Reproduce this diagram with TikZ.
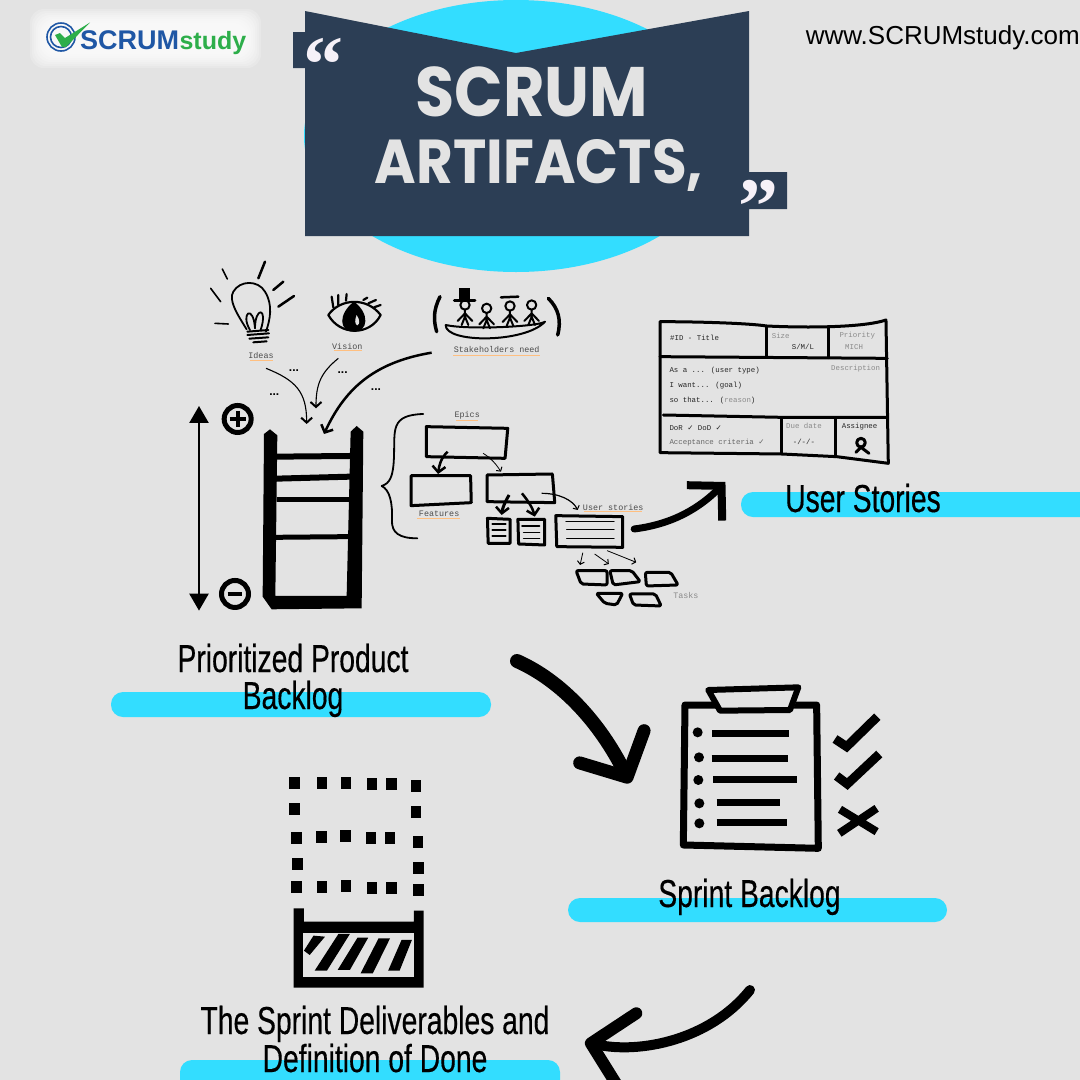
\documentclass[tikz,border=0pt]{standalone}
\usepackage{fontspec}
\usepackage{tikz}
\usetikzlibrary{arrows.meta,positioning,shapes.geometric}
\setmainfont{Liberation Sans}
\newfontfamily\headfont[FakeStretch=0.91]{Poppins}
\newfontfamily\quotefont{Liberation Serif}
\newfontfamily\barfont[FakeStretch=0.725,FakeBold=0.35]{Liberation Sans}
\newfontfamily\sketchfont{Liberation Mono}
\newfontfamily\symfont{DejaVu Sans}
\definecolor{pagegray}{HTML}{E3E3E3}
\definecolor{skyblue}{HTML}{33DDFF}
\definecolor{navy}{HTML}{2C3E55}
\definecolor{quotewhite}{HTML}{F6F1F8}
\definecolor{logoblue}{HTML}{1F57A5}
\definecolor{logogreen}{HTML}{2DAE4A}
\definecolor{faint}{HTML}{8A8A8A}

\begin{document}
\begin{tikzpicture}[x=1pt,y=-1pt,
  barlabel/.style = {font=\barfont\fontsize{39}{39}\selectfont, anchor=base, inner sep=0pt, text=black},
  bar/.style = {fill=skyblue, rounded corners=12pt},
  sketchlabel/.style = {font=\sketchfont\fontsize{8.4}{10}\selectfont, inner sep=0pt, text=black!70},
  cardtext/.style = {font=\sketchfont\fontsize{7.4}{10}\selectfont, inner sep=0pt, text=black!85, anchor=west},
  ringmark/.style = {circle, draw, line width=5pt, inner sep=0pt, minimum size=27pt},
  ink/.style = {draw=black, line width=3pt, line join=round, line cap=round},
  thinink/.style = {draw=black, line width=1pt, line cap=round},
  inkflow/.style = {draw=black, line width=2.5pt, -{Straight Barb[length=6pt,width=13pt,line width=2.5pt]}},
  headflow/.style = {draw=black, line width=1.1pt, -{Straight Barb[length=5pt,width=11pt,line width=2pt]}},
  thinflow/.style = {draw=black, line width=.8pt, -{Straight Barb[length=3pt,width=7pt,line width=1pt]}},
  dotsmark/.style = {font=\bfseries\fontsize{12}{12}\selectfont, inner sep=0pt, text=black},
  bigflow/.style = {draw=black, line cap=round},
  page1/.style = {shift={(190,250)}, scale=.3333},
  page2/.style = {shift={(380,310)}, xscale=.338, yscale=.3333},
  page4/.style = {shift={(660,670)}, scale=.3333},
  page6/.style = {shift={(170,760)}, xscale=.3827, yscale=.3333},
  page7/.style = {shift={(650,310)}, scale=.3333},
  page9/.style = {shift={(425,280)}, scale=.3333}]

  \useasboundingbox (0,0) rectangle (1080,1080);
  \clip (0,0) rectangle (1080,1080);
  \fill[pagegray] (0,0) rectangle (1080,1080);

  % logo
  \foreach \g in {16,14,12,10,8,6,4,2}
    \fill[white, opacity=.2, rounded corners=14pt] (46-\g,25-\g) rectangle (245+\g,52+\g);
  \draw[logoblue, line width=1.6pt] (61,37) circle (14pt) (61,37) circle (10.5pt);
  \fill[logogreen] (55,35) -- (60,33) -- (65,38) -- (90,22.5) -- (66,47) -- (62,47) -- cycle;
  \node[anchor=base west, inner sep=0pt, text=logoblue, font=\bfseries\fontsize{27}{27}\selectfont] (logoscrum) at (80,49) {SCRUM};
  \node[anchor=base west, inner sep=0pt, text=logogreen, font=\bfseries\fontsize{25}{25}\selectfont] (logostudy) at (logoscrum.base east) {study};
  \node[anchor=base east, inner sep=0pt, font=\fontsize{26}{26}\selectfont] (website) at (1080,44) {www.SCRUMstudy.com};

  % title
  \fill[skyblue] (516,136) ellipse (212pt and 136pt);
  \fill[navy] (305,11) -- (516,53) -- (749,11) -- (749,172) -- (787,172) -- (787,209) -- (749,209) -- (749,236) -- (305,236) -- (305,68) -- (293,68) -- (293,32) -- (305,32) -- cycle;
  \node[anchor=base, inner sep=0pt, text=pagegray, font=\headfont\bfseries\fontsize{70}{70}\selectfont] (titleone) at (532,116) {SCRUM};
  \node[anchor=base, inner sep=0pt, text=pagegray, font=\headfont\bfseries\fontsize{62}{62}\selectfont] (titletwo) at (539,183) {ARTIFACTS,};
  \node[anchor=base, inner sep=0pt, text=quotewhite, font=\quotefont\bfseries\fontsize{80}{80}\selectfont] (quoteopen) at (323,91) {“};
  \node[anchor=base, inner sep=0pt, text=quotewhite, font=\quotefont\bfseries\fontsize{80}{80}\selectfont] (quoteclose) at (758,233) {”};

  % bars and their labels
  \fill[bar] (741,492) rectangle (1100,517);
  \fill[bar] (111,692) rectangle (491,717);
  \fill[bar] (568,898) rectangle (947,922);
  \fill[bar] (180,1060) rectangle (560,1100);
  \node[barlabel] (userstories) at (863,512) {User Stories};
  \node[barlabel] (priolabel) at (293,672) {Prioritized Product};
  \node[barlabel] (priolabeltwo) at (293,709) {Backlog};
  \node[barlabel] (sprintlabel) at (749.5,907) {Sprint Backlog};
  \node[barlabel] (donelabel) at (375,1034) {The Sprint Deliverables and};
  \node[barlabel] (donelabeltwo) at (375,1072) {Definition of Done};

  % ideas, vision, stakeholders
  \begin{scope}[page1]
    \draw[ink, line width=2.5pt] (225,35) -- (205,85) (280,95) -- (250,120) (312,138) -- (265,170);
    \draw[ink, line width=1.6pt] (97,57) -- (112,87) (62,115) -- (92,155) (75,220) -- (115,222);
    \draw[ink, line width=1.8pt] (170,238) .. controls (140,190) and (115,150) .. (130,125) .. controls (150,90) and (205,90) .. (225,125) .. controls (250,165) and (240,210) .. (228,245);
    \draw[ink, line width=1.8pt] (180,240) .. controls (150,190) and (190,160) .. (195,235) .. controls (195,170) and (235,170) .. (212,240);
    \draw[ink, line width=2pt] (172,245) -- (235,240) (172,255) -- (237,250) (178,266) -- (235,262) (190,277) -- (230,274);
    \draw[ink, line width=2.2pt] (415,195) .. controls (450,145) and (530,140) .. (572,195) .. controls (540,258) and (450,258) .. (415,195);
    \fill (492,155) .. controls (540,190) and (535,245) .. (492,245) .. controls (445,245) and (445,190) .. (492,155);
    \fill[pagegray] (500,195) .. controls (510,210) and (510,222) .. (502,226) .. controls (494,222) and (494,210) .. (500,195);
    \draw[ink, line width=2.2pt] (430,172) -- (425,140) (445,165) -- (445,135) (468,152) -- (470,132) (520,150) -- (532,143) (535,160) -- (558,150) (552,172) -- (572,165);
    \node[sketchlabel] (idealabel) at (213,318) {Ideas};
    \node[sketchlabel] (visionlabel) at (472,290) {Vision};
    \coordinate (ideastart) at (228,355);
    \coordinate (visionstart) at (445,325);
    \coordinate (needstart) at (725,308);
    \coordinate (ideaend) at (350,522);
    \coordinate (visionend) at (378,475);
    \coordinate (needend) at (402,552);
    \node[dotsmark] (dotsone) at (312,362) {...};
    \node[dotsmark] (dotstwo) at (458,369) {...};
    \node[dotsmark] (dotsthree) at (558,418) {...};
    \node[dotsmark] (dotsfour) at (253,434) {...};
    \draw[orange!50, line width=.5pt] (180,330) -- (250,330) (432,302) -- (515,302);
  \end{scope}
  \begin{scope}[page9]
    \draw[ink, line width=3.5pt] (45,50) .. controls (25,90) and (25,120) .. (35,155);
    \draw[ink, line width=3.5pt] (370,55) .. controls (400,85) and (410,120) .. (398,165);
    \draw[ink, line width=2pt] (62,135) .. controls (60,190) and (300,190) .. (360,125) .. controls (340,140) and (130,150) .. (62,135);
    \foreach \x/\y in {120/75, 185/85, 255/78, 320/75}{
      \draw[ink, line width=2pt] (\x,\y) circle (14);
      \draw[ink, line width=2pt] (\x,\y+14) -- (\x,\y+35) (\x-22,\y+48) -- (\x,\y+25) -- (\x+22,\y+48) (\x,\y+35) -- (\x-10,\y+60) (\x,\y+35) -- (\x+10,\y+60);
    }
    \fill (103,25) rectangle (135,58);
    \draw[ink] (88,60) -- (150,60);
    \draw[ink, line width=2.5pt] (228,52) -- (280,50);
    \node[sketchlabel] (needlabel) at (215,210) {Stakeholders need};
    \draw[orange!50, line width=.5pt] (85,226) -- (345,226);
  \end{scope}
  \draw[headflow] (ideastart) .. controls +(30,12) and +(0,-32) .. (ideaend);
  \draw[headflow] (visionstart) .. controls +(-17,14) and +(0,-25) .. (visionend);
  \draw[inkflow] (needstart) .. controls +(-60,10) and +(20,-43) .. (needend);

  % prioritized product backlog
  \begin{scope}[page1]
    \fill (222,552) -- (240,538) -- (262,556) -- (256,1038) -- (470,1038) -- (482,545) -- (500,528) -- (520,545) -- (515,1075) -- (245,1078) -- (218,1040) -- cycle;
    \foreach \xa/\ya/\xb/\yb/\w in {260/620/482/618/6, 260/686/482/680/6, 260/748/478/748/5, 258/862/476/860/5}
      \draw[line width=\w pt] (\xa,\ya) -- (\xb,\yb);
    \coordinate (priotop) at (27,468);
    \coordinate (priobottom) at (27,1082);
    \node[ringmark] (plusmark) at (143,507) {};
    \node[ringmark] (minusmark) at (135,1032) {};
    \draw[line width=4pt] (plusmark.center) ++(-24,0) -- ++(48,0) (plusmark.center) ++(0,-24) -- ++(0,48);
    \draw[line width=4pt] (minusmark.center) ++(-22,0) -- ++(44,0);
    \draw[ink, line width=1.8pt] (700,492) .. controls (600,495) and (615,540) .. (612,620) .. controls (610,680) and (600,700) .. (575,708) .. controls (600,720) and (608,760) .. (606,810) .. controls (604,850) and (630,865) .. (682,865);
  \end{scope}
  \draw[line width=2.5pt, {Triangle[width=19pt,length=17pt]}-{Triangle[width=19pt,length=17pt]}] (priotop) -- (priobottom);

  % epics, features, stories
  \begin{scope}[page2]
    \draw[ink] (137,350) -- (378,355) -- (370,445) -- (137,440) -- cycle;
    \draw[ink] (92,497) -- (268,497) -- (270,578) -- (92,587) -- cycle;
    \draw[ink] (317,495) -- (510,492) -- (517,578) -- (317,575) -- cycle;
    \draw[ink] (318,625) -- (385,628) -- (385,700) -- (320,700) -- cycle;
    \draw[ink] (408,628) -- (487,628) -- (487,705) -- (410,702) -- cycle;
    \draw[ink] (520,617) -- (718,620) -- (718,712) -- (523,710) -- cycle;
    \draw[thinink] (550,635) -- (693,635) (552,660) -- (693,660) (552,687) -- (693,687);
    \draw[thinink, line width=1.6pt] (332,642) -- (372,642) (332,660) -- (372,660) (332,678) -- (372,678);
    \draw[thinink, line width=1.6pt] (420,648) -- (472,648) (425,667) -- (472,667) (425,686) -- (472,686);
    \foreach \xa/\ya/\xb/\yb/\xc/\yc/\xd/\yd in {580/782/672/782/672/825/595/822, 680/782/745/782/770/815/690/825, 785/787/860/787/882/825/788/828, 640/850/718/850/700/885/665/880, 738/852/815/852/832/888/750/885}
      \draw[ink, rounded corners=2pt] (\xa,\ya) -- (\xb,\yb) -- (\xc,\yc) -- (\xd,\yd) -- cycle;
    \draw[inkflow] (200,425) .. controls (180,445) and (175,465) .. (172,492);
    \draw[thinflow] (305,430) .. controls (330,445) and (345,465) .. (358,485);
    \draw[inkflow, line width=3pt] (382,555) .. controls (370,575) and (362,595) .. (360,615);
    \draw[inkflow] (420,550) .. controls (440,575) and (452,595) .. (458,620);
    \draw[thinflow, line width=1.2pt] (478,550) .. controls (530,550) and (570,570) .. (585,600);
    \draw[thinflow] (600,728) -- (592,765);
    \draw[thinflow] (635,732) -- (677,762);
    \draw[thinflow] (672,722) -- (758,757);
    \node[sketchlabel] (epicslabel) at (258,316) {Epics};
    \node[sketchlabel] (featlabel) at (175,612) {Features};
    \node[sketchlabel] (storylabel) at (690,592) {User stories};
    \node[sketchlabel, text=faint] (taskslabel) at (905,858) {Tasks};
    \draw[orange!50, line width=.5pt] (110,625) -- (238,625) (605,604) -- (775,604) (225,330) -- (290,330);
    \coordinate (cardfrom) at (752,657);
    \coordinate (cardto) at (1022,516);
  \end{scope}
  \draw[bigflow, line width=7pt, -{Straight Barb[length=24pt,width=50pt,line width=8pt]}] (cardfrom) .. controls +(40,-5) and +(-25,25) .. (cardto);

  % user story card
  \begin{scope}[page7]
    \draw[ink] (30,35) .. controls (150,35) and (300,40) .. (350,48) .. controls (500,55) and (650,50) .. (708,30) -- (715,460) -- (560,440) -- (395,432) -- (30,428) -- cycle;
    \draw[ink] (30,140) -- (712,145);
    \draw[ink] (40,315) -- (395,322) -- (712,322);
    \draw[ink] (350,48) -- (350,140) (535,52) -- (535,143) (395,325) -- (395,432) (558,325) -- (558,440);
    \node[cardtext] (cardid) at (60,85) {\#ID - Title};
    \node[cardtext, text=faint] (cardsize) at (365,77) {Size};
    \node[cardtext] (cardsizes) at (425,110) {S/M/L};
    \node[cardtext, text=faint] (cardprio) at (568,78) {Priority};
    \node[cardtext, text=faint] (cardmich) at (585,110) {MICH};
    \node[cardtext, text=faint] (carddesc) at (543,175) {Description};
    \node[cardtext] (cardas) at (58,182) {As a ... (user type)};
    \node[cardtext] (cardwant) at (58,228) {I want... (goal)};
    \node[cardtext] (cardso) at (58,273) {so that... ({\color{faint}reason})};
    \node[cardtext] (carddor) at (58,355) {DoR {\symfont ✓} DoD {\symfont ✓}};
    \node[cardtext, text=black!60] (cardacc) at (58,398) {Acceptance criteria {\symfont ✓}};
    \node[cardtext, text=faint] (carddue) at (408,348) {Due date};
    \node[cardtext] (carddash) at (428,397) {-/-/-};
    \node[cardtext] (cardassign) at (575,350) {Assignee};
    \draw[ink] (633,398) circle (13) (618,427) -- (633,412) -- (657,430);
  \end{scope}

  % sprint backlog
  \begin{scope}[page4]
    \draw[ink, line width=7pt] (75,105) -- (70,525) -- (475,535) -- (470,105) -- cycle;
    \fill[pagegray] (140,50) -- (425,45) -- (395,130) -- (175,130) -- cycle;
    \draw[ink, line width=6pt] (145,60) -- (415,52) -- (390,120) -- (180,122) -- cycle;
    \foreach \xa/\xb/\y in {157/388/190, 155/385/265, 160/410/330, 170/360/397, 170/380/457}
      \draw[line width=7pt] (\xa,\y) -- (\xb,\y);
    \foreach \x/\y in {113/187, 117/262, 115/330, 118/400, 118/460}
      \fill (\x,\y) circle (15);
    \draw[line width=9pt, line join=miter] (525,207) -- (560,230) -- (652,140);
    \draw[line width=9pt, line join=miter] (530,318) -- (562,342) -- (658,252);
    \draw[line width=8pt] (540,418) -- (650,485) (650,415) -- (538,490);
  \end{scope}

  % sprint deliverables
  \begin{scope}[page6]
    \foreach \x/\y in {325/68, 397/70, 460/68, 528/73, 578/73, 643/78, 325/147, 643/157, 330/235, 395/230, 458/228, 525/233, 575/235, 648/245, 333/313, 650/323, 330/380, 397/380, 460/378, 528/384, 578/385, 649/390}
      \fill (\x,\y) ++(-14,-18) rectangle ++(28,36);
    \fill (323,445) -- (350,445) -- (350,485) -- (637,485) -- (637,452) -- (663,452) -- (663,683) -- (323,683) -- cycle;
    \fill[pagegray] (348,518) rectangle (637,650);
    \foreach \xa/\xb/\xc/\xd/\ya/\yb in {378/440/470/410/632/522, 438/490/518/470/630/533, 498/545/575/530/640/535, 570/605/632/600/632/540}
      \fill (\xa,\ya) -- (\xb,\yb) -- (\xc,\yb) -- (\xd,\ya) -- cycle;
    \fill (350,572) -- (375,527) -- (405,530) -- (365,585) -- cycle;
  \end{scope}

  % flow between artifacts
  \coordinate (flowastart) at (517,661);
  \coordinate (flowaend) at (630,783);
  \coordinate (flowbstart) at (750,990);
  \coordinate (flowbend) at (585,1042);
  \draw[bigflow, line width=14pt, -{Straight Barb[length=34pt,width=72pt,line width=13pt,round]}] (flowastart) .. controls +(45,20) and +(-30,-60) .. (flowaend);
  \draw[bigflow, line width=10pt, -{Straight Barb[length=38pt,width=78pt,line width=12pt,round]}] (flowbstart) .. controls +(-40,50) and +(55,12) .. (flowbend);
\end{tikzpicture}
\end{document}
